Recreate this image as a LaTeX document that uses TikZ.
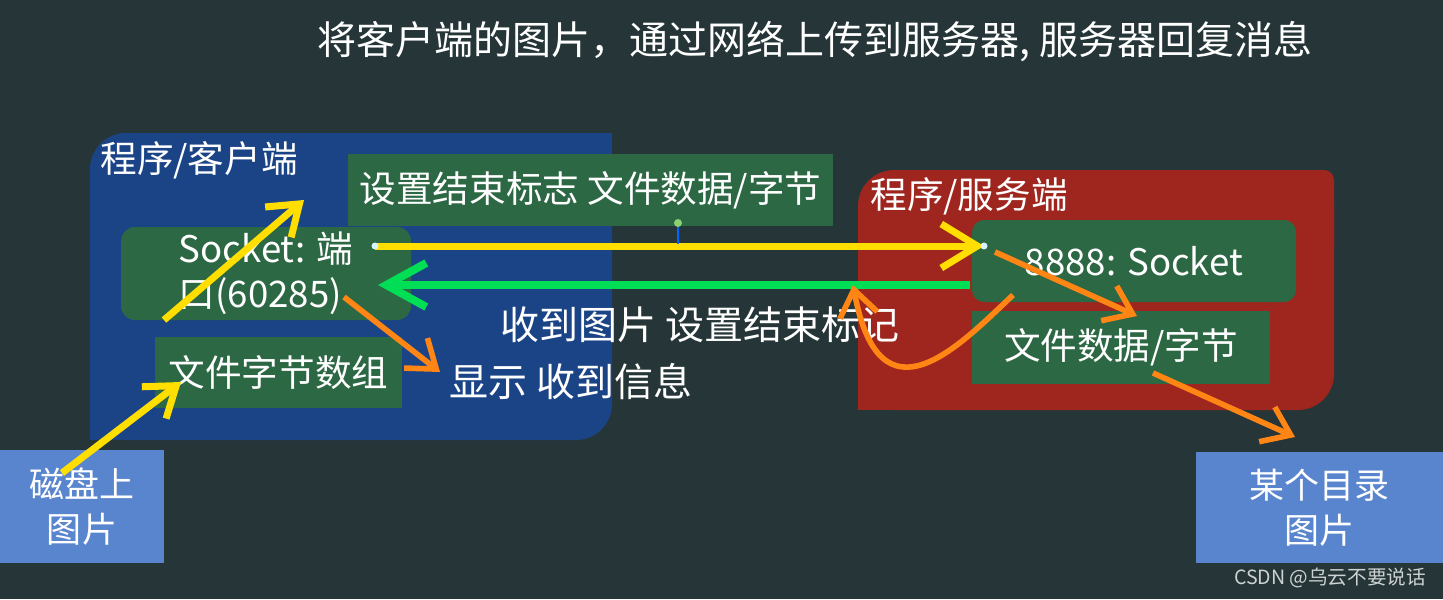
\documentclass[tikz,border=0pt]{standalone}
\usepackage{fontspec}
\setmainfont{Noto Sans CJK SC}
\usetikzlibrary{arrows.meta}
\definecolor{bgc}{RGB}{38,54,56}
\definecolor{clientblue}{RGB}{27,68,135}
\definecolor{boxgreen}{RGB}{45,104,68}
\definecolor{serverred}{RGB}{158,38,30}
\definecolor{diskblue}{RGB}{89,133,206}
\definecolor{arrowyellow}{RGB}{255,222,0}
\definecolor{arrowgreen}{RGB}{0,222,85}
\definecolor{arroworange}{RGB}{255,133,20}
\definecolor{wmgray}{RGB}{205,210,210}
\definecolor{handlegreen}{RGB}{140,210,110}
\begin{document}
\begin{tikzpicture}[x=0.5pt,y=-0.5pt,
  txt/.style={text=white,inner sep=0pt,font=\fontsize{18.3}{22.5}\selectfont},
  big/.style={text=white,inner sep=0pt,font=\fontsize{19.5}{23}\selectfont},
  gbox/.style={txt,fill=boxgreen,align=center},
  dbox/.style={text=white,inner sep=0pt,fill=diskblue,align=center,font=\fontsize{17.5}{22.5}\selectfont},
  wm/.style={text=wmgray,inner sep=0pt,font=\fontsize{9.8}{11}\selectfont},
  yarrow/.style={draw=arrowyellow,line width=3.5pt,-{Straight Barb[length=14pt,width=20pt]}},
  garrow/.style={draw=arrowgreen,line width=4pt,-{Straight Barb[length=20pt,width=22pt]}},
  oarrow/.style={draw=arroworange,line width=2.8pt,-{Straight Barb[length=13pt,width=19pt]}},
  enddot/.style={fill=white!85!cyan,draw=none}
]
\fill[bgc] (0,0) rectangle (1443,599);
\useasboundingbox (0,0) rectangle (1443,599);

% client program box
\fill[clientblue,rounded corners=18pt] (90,133) rectangle (612,440);
\fill[clientblue] (560,133) rectangle (612,185);
\fill[clientblue] (90,390) rectangle (140,440);

% server program box
\fill[serverred,rounded corners=18pt] (858,170) rectangle (1334,410);
\fill[serverred,rounded corners=5pt] (1250,170) rectangle (1334,260);
\fill[serverred] (858,356) rectangle (912,410);

% title
\node[big] (title) at (815,42) {将客户端的图片，通过网络上传到服务器, 服务器回复消息};

% labels
\node[txt,anchor=west] (clbl) at (100,160) {程序/客户端};
\node[txt,anchor=west] (slbl) at (870,196) {程序/服务端};

% green boxes
\node[gbox,minimum width=242.5pt,minimum height=36pt] (flag) at (590.5,190) {设置结束标志 文件数据/字节};
\node[gbox,rounded corners=7pt,minimum width=145pt,minimum height=46.5pt,align=left] (csock) at (266,273.5) {Socket: 端\\口(60285)};
\node[gbox,minimum width=123.5pt,minimum height=35.5pt] (carr) at (278.5,372.5) {文件字节数组};
\node[gbox,rounded corners=6pt,minimum width=162pt,minimum height=41pt] (ssock) at (1134,261) {8888: Socket};
\node[gbox,minimum width=149pt,minimum height=36.5pt] (sdata) at (1121,347.5) {文件数据/字节};

% disk / directory boxes
\node[dbox,minimum width=82pt,minimum height=56.5pt] (disk) at (82,506.5) {磁盘上\\图片};
\node[dbox,minimum width=123.5pt,minimum height=55.5pt] (dir) at (1319.5,507.5) {某个目录\\图片};

% free texts
\node[big] (show) at (571,382) {显示 收到信息};
\node[big] (recv) at (700,325) {收到图片 设置结束标记};
\node[wm] (wmark) at (1330,578) {CSDN @乌云不要说话};

% arrow end points
\coordinate (y1s) at (62,473);   \coordinate (y1e) at (181,382);
\coordinate (y2s) at (164,320);  \coordinate (y2e) at (304,200);
\coordinate (y3s) at (375,246);  \coordinate (y3e) at (984,246);
\coordinate (g1s) at (970,285);  \coordinate (g1e) at (378,285);
\coordinate (o1s) at (344,297);  \coordinate (o1e) at (440,372);
\coordinate (o2s) at (995,252);  \coordinate (o2e) at (1137,316);
\coordinate (o3s) at (1013,295); \coordinate (o3e) at (853,285);
\coordinate (o4s) at (1153,373); \coordinate (o4e) at (1295,437);
\coordinate (hdot) at (678,223); \coordinate (hfoot) at (678,244);

% arrows
\draw[yarrow] (y1s) -- (y1e);
\draw[yarrow] (y2s) -- (y2e);
\draw[yarrow,-{Straight Barb[length=18pt,width=22pt]}] (y3s) -- (y3e);
\draw[garrow] (g1s) -- (g1e);
\draw[oarrow] (o1s) -- (o1e);
\draw[oarrow] (o2s) -- (o2e);
\draw[oarrow] (o3s) .. controls (960,345) and (880,430) .. (o3e);
\draw[oarrow] (o4s) -- (o4e);

% small handles
\draw[draw=blue!60!cyan,line width=0.6pt] (hdot) -- (hfoot);
\fill[handlegreen] (hdot) circle (4);
\fill[enddot] (y3s) circle (3.5);
\fill[enddot] (y3e) circle (3.5);
\end{tikzpicture}
\end{document}
